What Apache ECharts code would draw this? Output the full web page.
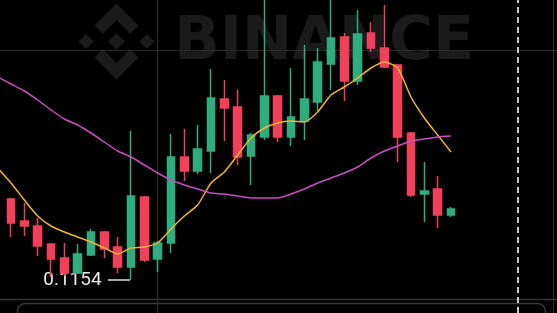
<!DOCTYPE html>
<html><head><meta charset="utf-8">
<script src="https://cdn.jsdelivr.net/npm/echarts@6/dist/echarts.min.js"></script>
<style>html,body{margin:0;padding:0;background:#000;}#c{width:557px;height:313px;}</style>
</head><body><div id="c"></div>
<script>
// 15-minute candle time labels (axis hidden)
const times = ['00:00','00:15','00:30','00:45','01:00','01:15','01:30','01:45','02:00','02:15','02:30','02:45',
  '03:00','03:15','03:30','03:45','04:00','04:15','04:30','04:45','05:00','05:15','05:30','05:45',
  '06:00','06:15','06:30','06:45','07:00','07:15','07:30','07:45','08:00','08:15','08:30','08:45',
  '09:00','09:15','09:30','09:45','10:00','10:15','10:30'];
const opens  = [null,0.11702,0.11658,0.11648,0.11612,0.11584,0.11554,0.11590,0.11636,0.11606,0.11566,0.11706,0.11582,0.11614,0.11786,0.11758,0.11798,0.11902,0.11886,0.11788,0.11826,0.11908,0.11826,0.11858,0.11896,0.11972,0.12026,0.11938,0.12034,0.12004,0.11970,0.11834,0.11712,0.11722,0.11670];
const closes = [null,0.11654,0.11648,0.11608,0.11582,0.11554,0.11592,0.11636,0.11602,0.11566,0.11708,0.11580,0.11614,0.11786,0.11758,0.11802,0.11904,0.11884,0.11786,0.11830,0.11908,0.11826,0.11866,0.11902,0.11976,0.12024,0.11938,0.12032,0.12004,0.11966,0.11826,0.11710,0.11718,0.11670,0.11682];
const lows   = [null,0.11626,0.11628,0.11588,0.11546,0.11548,0.11552,0.11588,0.11584,0.11554,0.11540,0.11576,0.11556,0.11594,0.11738,0.11752,0.11754,0.11818,0.11770,0.11730,0.11820,0.11816,0.11808,0.11820,0.11878,0.11920,0.11898,0.11930,0.11996,0.11964,0.11776,0.11706,0.11656,0.11644,0.11666];
const highs  = [null,0.11704,0.11694,0.11664,0.11614,0.11614,0.11612,0.11642,0.11638,0.11626,0.11838,0.11708,0.11618,0.11832,0.11842,0.11850,0.11962,0.11940,0.11920,0.11834,0.12100,0.11910,0.11964,0.12010,0.12004,0.12100,0.12034,0.12080,0.12056,0.12090,0.11972,0.11836,0.11776,0.11748,0.11686];
const ma7  = [0.11764,0.11734,0.11700,0.11668,0.11648,0.11636,0.11626,0.11616,0.11604,0.11592,0.11604,0.11606,0.11614,0.11642,0.11668,0.11690,0.11734,0.11756,0.11790,0.11824,0.11844,0.11854,0.11858,0.11856,0.11876,0.11910,0.11926,0.11944,0.11964,0.11976,0.11964,0.11906,0.11864,0.11830,0.11796];
const ma25 = [0.11946,0.11932,0.11918,0.11900,0.11880,0.11862,0.11850,0.11834,0.11816,0.11798,0.11786,0.11770,0.11754,0.11740,0.11730,0.11722,0.11714,0.11712,0.11708,0.11704,0.11704,0.11704,0.11712,0.11722,0.11734,0.11744,0.11754,0.11766,0.11784,0.11798,0.11808,0.11818,0.11822,0.11826,0.11828];
const gridPrices = [0.12046, 0.11821, 0.11596];
const gridTimeIdx = 12;
const nowTimeIdx = 39;

const candles = times.map((t, i) => opens[i] == null ? '-' : [opens[i], closes[i], lows[i], highs[i]]);

const UP = '#2EAD7F', DOWN = '#F2405B';
const WM = '#1a1a1a';
function poly(pts, cx, cy, s) {
  return { type: 'polygon', z: 0, silent: true,
    shape: { points: pts.map(p => [cx + p[0] * s, cy + p[1] * s]) },
    style: { fill: WM } };
}
const cx = 116.5, cy = 41.5, s = 38;
const logo = [
  [[0,-0.22],[0.22,0],[0,0.22],[-0.22,0]],
  [[-0.8,-0.2],[-0.6,0],[-0.8,0.2],[-1.0,0]],
  [[0.8,-0.2],[1.0,0],[0.8,0.2],[0.6,0]],
  [[0,-1],[0.58,-0.42],[0.36,-0.2],[0,-0.56],[-0.36,-0.2],[-0.58,-0.42]],
  [[0,1],[0.58,0.42],[0.36,0.2],[0,0.56],[-0.36,0.2],[-0.58,0.42]]
].map(p => poly(p, cx, cy, s));

const chart = echarts.init(document.getElementById('c'), null, { renderer: 'canvas' });
chart.setOption({
  backgroundColor: '#000',
  animation: false,
  grid: { left: -9, right: -7.333, top: 0, bottom: 0, containLabel: false, outerBoundsMode: 'none' },
  xAxis: { type: 'category', data: times, boundaryGap: true, show: false },
  yAxis: { type: 'value', min: 0.11474, max: 0.121, show: false, splitLine: { show: false } },
  graphic: [
    ...logo,
    { type: 'text', z: 0, silent: true, left: 174, top: 13,
      style: { text: 'BINANCE', fill: WM, font: 'bold 60px "DejaVu Sans"' } },
    { type: 'line', z: 1, silent: true, shape: { x1: 0, y1: 299.5, x2: 557, y2: 299.5 },
      style: { stroke: '#333', lineWidth: 1.5 } },
    { type: 'rect', z: 1, silent: true, shape: { x: 17.5, y: 303.5, width: 528, height: 30, r: 8 },
      style: { fill: 'none', stroke: '#3a3a3a', lineWidth: 1.5 } },
    { type: 'line', z: 1, silent: true, shape: { x1: 553.5, y1: 0, x2: 553.5, y2: 313 },
      style: { stroke: '#333', lineWidth: 1 } }
  ],
  series: [
    { name: 'grid', type: 'line', data: [], z: 1, silent: true,
      markLine: { silent: true, symbol: ['none', 'none'], label: { show: false },
        lineStyle: { color: '#2a2a2a', width: 1.2, type: 'solid' },
        data: [
          ...gridPrices.map(v => ({ yAxis: v })),
          { xAxis: times[gridTimeIdx] },
          { xAxis: times[nowTimeIdx], lineStyle: { color: '#c8c8c8', width: 2, type: [6, 4] } }
        ] } },
    { name: 'K', type: 'candlestick', data: candles, z: 5, barWidth: 8, clip: true,
      itemStyle: { color: UP, color0: DOWN, borderColor: UP, borderColor0: DOWN, borderWidth: 1.5 },
      markPoint: { symbol: 'circle', symbolSize: 0.1, itemStyle: { color: 'rgba(0,0,0,0)' },
        data: [{ type: 'min', valueDim: 'lowest' }],
        label: { show: true, position: 'left', distance: 1,
          formatter: p => '{v|' + Number(p.value).toFixed(4) + '} {d|}',
          rich: { v: { color: '#e8e8e8', fontSize: 19, fontFamily: 'Roboto', padding: [0, 3, 0, 0] },
                  d: { width: 22, height: 1.5, backgroundColor: '#e0e0e0' } } } } },
    { name: 'MA7', type: 'line', data: ma7, z: 6, smooth: 0.2, symbol: 'none',
      lineStyle: { color: '#F2B62C', width: 1.5 } },
    { name: 'MA25', type: 'line', data: ma25, z: 6, smooth: 0.2, symbol: 'none',
      lineStyle: { color: '#C94FBF', width: 1.5 } }
  ]
});
</script></body></html>
